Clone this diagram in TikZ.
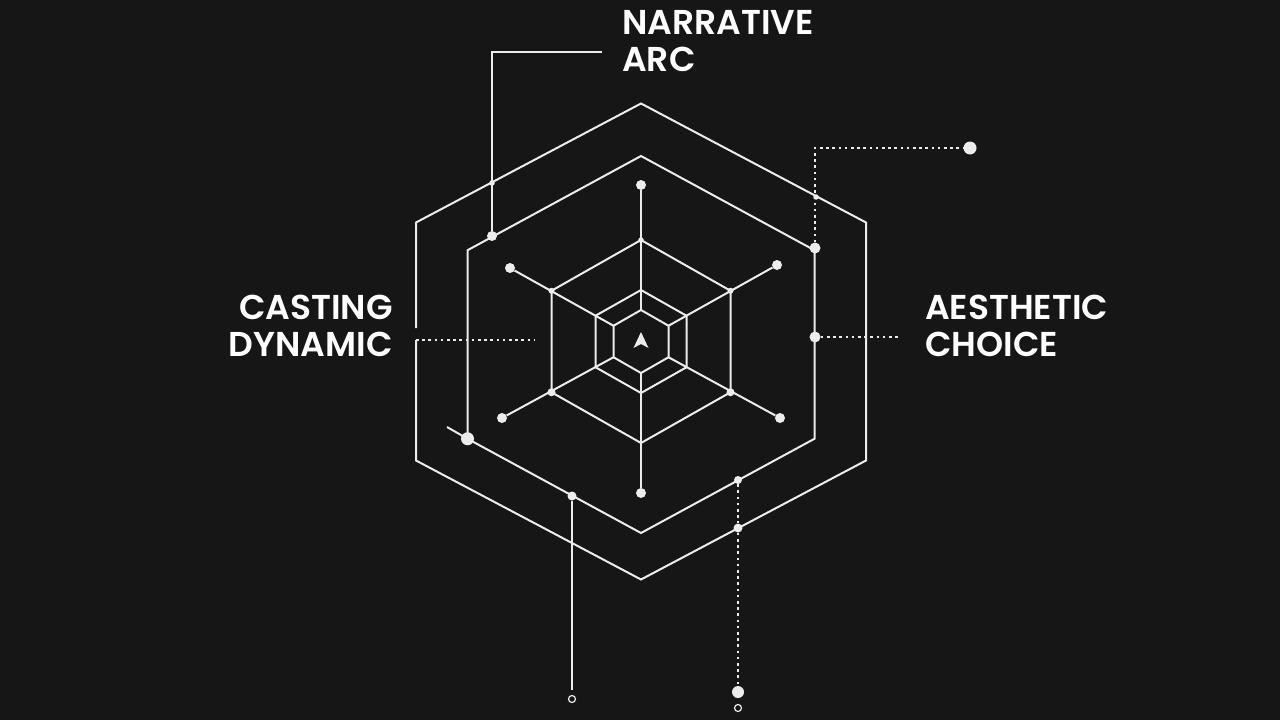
\documentclass[tikz,border=0pt]{standalone}
\usepackage{fontspec}
\newfontfamily\labelfont{Poppins SemiBold}
\usetikzlibrary{positioning}
\definecolor{bgdark}{RGB}{22,22,22}
\definecolor{inkwhite}{RGB}{236,236,236}

\begin{document}
\begin{tikzpicture}[x=1pt,y=-1pt,
  hexline/.style={draw=inkwhite,line width=2pt},
  dotline/.style={draw=inkwhite,line width=2.2pt,dash pattern=on 2.6pt off 3.6pt},
  knot/.style={circle,fill=inkwhite,inner sep=0pt,minimum size=#1},
  knot/.default=10pt,
  ring/.style={circle,draw=inkwhite,line width=1.2pt,inner sep=0pt,minimum size=7pt},
  heading/.style={text=white,font=\labelfont\fontsize{34.5}{37}\selectfont,inner sep=0pt}]
\fill [bgdark] (0,0) rectangle (1280,720);
\useasboundingbox (0,0) rectangle (1280,720);

% hexagon corners: name/half width/radius/centre y
\foreach \h/\w/\r/\cy in {outer/225/238/341.5, second/173.5/188.5/344.5,
    third/89.5/101.5/341.5, fourth/45.5/51.5/341.5, inner/27.5/31.5/341.5} {
  \coordinate (\h-n) at (641,\cy-\r);
  \coordinate (\h-ne) at (641+\w,\cy-\r/2);
  \coordinate (\h-se) at (641+\w,\cy+\r/2);
  \coordinate (\h-s) at (641,\cy+\r);
  \coordinate (\h-sw) at (641-\w,\cy+\r/2);
  \coordinate (\h-nw) at (641-\w,\cy-\r/2);
}

% outer ring, open on the left
\coordinate (gapA) at (416,328);
\coordinate (gapB) at (416,340);
\draw [hexline] (gapB) -- (outer-sw) -- (outer-s) -- (outer-se) -- (outer-ne)
  -- (outer-n) -- (outer-nw) -- (gapA);
\coordinate (stub) at (447,427);
\draw [hexline] (second-n) -- (second-ne) -- (second-se) -- (second-s)
  -- (second-sw) -- (second-nw) -- cycle;
\draw [hexline] (stub) -- (second-sw);
\foreach \h in {third, fourth, inner}
  \draw [hexline] (\h-n) -- (\h-ne) -- (\h-se) -- (\h-s) -- (\h-sw) -- (\h-nw) -- cycle;

% spokes
\node [knot] (tip-n) at (641,185) {};
\node [knot] (tip-s) at (641,493) {};
\node [knot] (tip-nw) at (510,268) {};
\node [knot] (tip-ne) at (777,265) {};
\node [knot] (tip-sw) at (502,418) {};
\node [knot] (tip-se) at (780,418) {};
\foreach \d in {n, ne, se, s, sw, nw}
  \draw [hexline] (inner-\d) -- (tip-\d);
\foreach \d/\s in {n/5.5pt, nw/6pt, ne/6pt, sw/8pt, se/8pt}
  \node [knot=\s] (tk-\d) at (third-\d) {};
\fill [inkwhite] (641,332) -- (648.5,348) -- (641,344) -- (633.5,348) -- cycle;

% labels
\node [heading, anchor=north west, align=left] (arc) at (622,10) {NARRATIVE\\ARC};
\node [heading, anchor=north east, align=right] (casting) at (393,295) {CASTING\\DYNAMIC};
\node [heading, anchor=north west, align=left] (aesthetic) at (925,295) {AESTHETIC\\CHOICE};

% narrative arc lead
\node [knot] (arcdot) at (492,236) {};
\node [knot=5.5pt] (arccross) at (492,183) {};
\coordinate (arcend) at (602,52);
\draw [hexline] (arcdot) |- (arcend);

% casting lead
\coordinate (castend) at (535,340);
\draw [dotline] (gapB) -- (castend);

% aesthetic lead
\node [knot=11pt] (aesdot) at (815,337) {};
\coordinate (aesend) at (898,337);
\draw [dotline] (aesdot) -- (aesend);

% upper right lead
\node [knot=11pt] (urdot) at (815,248) {};
\node [knot=5.5pt] (urcross) at (816,197) {};
\node [knot=13pt] (fardot) at (970,148) {};
\draw [dotline] (urdot) |- (fardot);

% lower leads
\node [knot=13pt] (cornerdot) at (second-sw) {};
\node [knot=9pt] (lowdot) at (572,496) {};
\coordinate (stemend) at (572,690);
\node [ring] (ringL) at (572,699) {};
\draw [hexline] (lowdot) -- (stemend);
\node [knot=8pt] (rdot1) at (738,480) {};
\node [knot=9pt] (rdot2) at (738,528) {};
\node [knot=12pt] (rdot3) at (738,692) {};
\node [ring] (ringR) at (738,708) {};
\draw [dotline] (rdot1) -- (rdot2) -- (rdot3);
\end{tikzpicture}
\end{document}
